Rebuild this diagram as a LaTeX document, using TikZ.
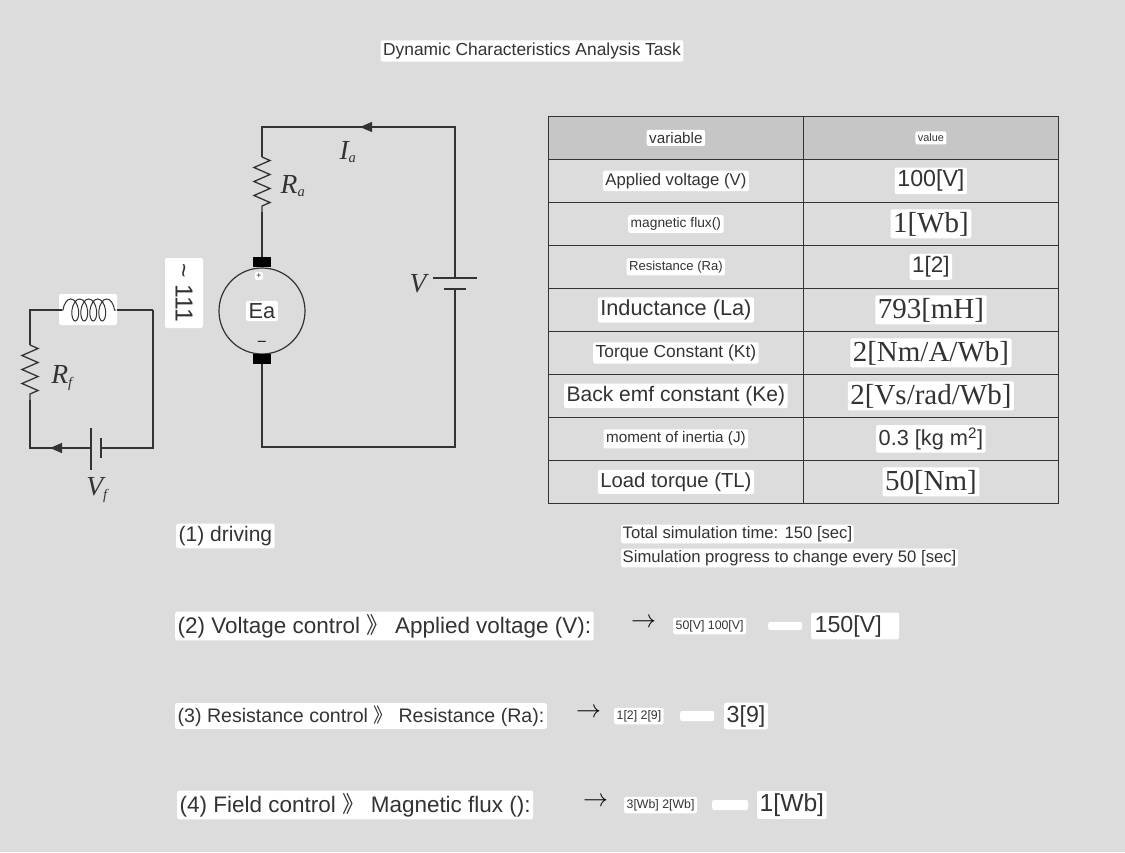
\documentclass[tikz,border=0pt]{standalone}
\usepackage{fontspec}
\setmainfont{Liberation Sans}
\newfontfamily\serifv{Liberation Serif}
\newfontfamily\cjk{Noto Sans CJK SC}
\usetikzlibrary{positioning}
\usetikzlibrary{calc}
\usetikzlibrary{decorations.pathmorphing}
\usetikzlibrary{arrows.meta}
\newcommand{\fsz}[1]{\fontsize{\fpeval{1.45*#1}}{\fpeval{1.45*#1}}\selectfont}
\definecolor{bgc}{HTML}{DCDCDC}
\definecolor{hdc}{HTML}{C6C6C6}
\definecolor{txc}{HTML}{333333}
\begin{document}
\begin{tikzpicture}[x=1pt,y=-1pt,
                    lbl/.style={fill=white, rounded corners=2pt, inner sep=2.5pt, text=txc},
                    wire/.style={line width=1.3pt, draw=black!80},
                    res/.style={wire, decorate, decoration={zigzag, segment length=14pt, amplitude=8pt}},
                    cell/.style={minimum width=255pt, minimum height=43pt, draw=black!80, line width=0.8pt, anchor=north west},
                    mathlbl/.style={font=\serifv\itshape\fsz{19}, text=black!80}
                ]
                \fill[bgc] (0,0) rectangle (1125,852);
                \useasboundingbox (0,0) rectangle (1125,852);
                % title
                \node[lbl, font=\fsz{12}] (title) at (532,51) {Dynamic Characteristics Analysis Task};
                % armature circuit
                \coordinate (atl) at (262,127);
                \coordinate (atr) at (455,127);
                \coordinate (abl) at (262,447);
                \coordinate (abr) at (455,447);
                \coordinate (ra1) at (262,157);
                \coordinate (ra2) at (262,212);
                \coordinate (vp) at (455,278);
                \coordinate (vn) at (455,289);
                \node[circle, draw=black!80, line width=1.2pt, minimum size=86pt] (motor) at (262,311) {};
                \node[fill=black, minimum width=18pt, minimum height=10pt, inner sep=0pt] (bt) at (262,262) {};
                \node[fill=black, minimum width=18pt, minimum height=10pt, inner sep=0pt] (bb) at (262,359) {};
                \draw[wire] (ra2) -- (bt.north);
                \draw[res] (ra1) -- (ra2);
                \draw[wire] (ra1) -- (atl) -- (atr) -- (vp);
                \draw[wire] (vn) -- (abr) -- (abl) -- (bb.south);
                \draw[wire] (433,278) -- (477,278);
                \draw[wire] (444,289) -- (466,289);
                \draw[wire, -{Triangle[length=12pt,width=10pt]}] (atr) -- (360,127);
                \node[lbl, font=\fsz{15}] (ea) at (262,311) {Ea};
                \node[lbl, font=\fsz{6}, inner sep=1.5pt] (plus) at (259,276) {+};
                \node[font=\fsz{10}] (minus) at (262,343) {--};
                \node[mathlbl] (ia) at (348,152) {I\textsubscript{\fsz{10}a}};
                \node[mathlbl] (ral) at (293,186) {R\textsubscript{\fsz{10}a}};
                \node[mathlbl] (vl) at (418,284) {V};
                % field circuit
                \coordinate (ftl) at (30,310);
                \coordinate (ftr) at (153,310);
                \coordinate (fbl) at (30,448);
                \coordinate (fbr) at (153,448);
                \coordinate (rf1) at (30,345);
                \coordinate (rf2) at (30,400);
                \fill[white, rounded corners=2pt] (59,294) rectangle (117,325);
                \draw[wire] (ftr) -- (117,310);
                \draw[wire, line width=1pt, decorate, decoration={coil, aspect=0.5, segment length=9pt, amplitude=11pt, pre length=1pt, post length=1pt}] (62,310) -- (116,310);
                \draw[wire] (62,310) -- (ftl) -- (rf1);
                \draw[res] (rf1) -- (rf2);
                \draw[wire] (rf2) -- (fbl) -- (91,448);
                \draw[wire] (ftr) -- (fbr) -- (101,448);
                \draw[wire] (91,428) -- (91,470);
                \draw[wire] (101,438) -- (101,458);
                \draw[wire, -{Triangle[length=12pt,width=10pt]}] (91,448) -- (50,448);
                \node[mathlbl] (rfl) at (62,378) {R\textsubscript{\fsz{10}f}};
                \node[mathlbl] (vfl) at (97,490) {V\textsubscript{\fsz{10}f}};
                \node[lbl, minimum width=38pt, minimum height=70pt] (coupl) at (184,293) {};
                \node[rotate=-90, font=\fsz{17}, text=txc] at (184,293) {\~{} 111};
                % table
                \foreach \i/\a/\b/\fa/\fb in {
                    1/Applied voltage (V)/100[V]/11.5/16,
                    2/magnetic flux()/{\serifv 1[Wb]}/9.5/20,
                    3/Resistance (Ra)/1[2]/9/15.5,
                    4/Inductance (La)/{\serifv 793[mH]}/15/20,
                    5/Torque Constant (Kt)/{\serifv 2[Nm/A/Wb]}/12/20,
                    6/Back emf constant (Ke)/{\serifv 2[Vs/rad/Wb]}/14.5/20,
                    7/moment of inertia (J)/0.3 [kg m\textsuperscript{2}]/10.5/15,
                    8/Load torque (TL)/{\serifv 50[Nm]}/14/20}{
                    \node[cell] (var\i) at (548,{116+43*\i}) {};
                    \node[cell] (val\i) at (803,{116+43*\i}) {};
                    \node[lbl, font=\fsz{\fa}] at (var\i.center) {\a};
                    \node[lbl, font=\fsz{\fb}] at (val\i.center) {\b};
                }
                \node[cell, fill=hdc] (varh) at (548,116) {};
                \node[cell, fill=hdc] (valh) at (803,116) {};
                \node[lbl, font=\fsz{10.5}] at (varh.center) {variable};
                \node[lbl, font=\fsz{7.5}] at (valh.center) {value};
                % notes
                \node[lbl, font=\fsz{14.5}, anchor=west] (drv) at (176,536) {(1) driving};
                \node[lbl, font=\fsz{11.5}, anchor=west, inner sep=1.5pt] (tot) at (621,534) {Total simulation time: 150 [sec]};
                \node[lbl, font=\fsz{11.5}, anchor=west, inner sep=1.5pt] (prog) at (621,558) {Simulation progress to change every 50 [sec]};
                % control cases
                \node[lbl, font=\fsz{15.5}, anchor=west] (c2) at (175,626) {(2) Voltage control {\cjk 》} Applied voltage (V):};
                \node[font=\fsz{16}, anchor=west, inner sep=0pt] (c2a) at (631,623) {$\rightarrow$};
                \node[lbl, font=\fsz{8.5}, anchor=west] (c2b) at (673,626) {50[V] 100[V]};
                \node[lbl, anchor=west, minimum width=34pt, minimum height=8pt, inner sep=0pt] (c2c) at (768,626) {};
                \node[lbl, font=\fsz{16}, anchor=west, minimum width=88pt, align=left] (c2d) at (811,626) {150[V]\hspace{14pt}};
                \node[lbl, font=\fsz{13.5}, anchor=west] (c3) at (175,716) {(3) Resistance control {\cjk 》} Resistance (Ra):};
                \node[font=\fsz{16}, anchor=west, inner sep=0pt] (c3a) at (576,713) {$\rightarrow$};
                \node[lbl, font=\fsz{8.5}, anchor=west] (c3b) at (614,716) {1[2] 2[9]};
                \node[lbl, anchor=west, minimum width=34pt, minimum height=10pt, inner sep=0pt] (c3c) at (680,716) {};
                \node[lbl, font=\fsz{16}, anchor=west] (c3d) at (724,716) {3[9]\hspace{8pt}};
                \node[lbl, font=\fsz{15.5}, anchor=west] (c4) at (177,805) {(4) Field control {\cjk 》} Magnetic flux ():\hspace{12pt}};
                \node[font=\fsz{16}, anchor=west, inner sep=0pt] (c4a) at (583,802) {$\rightarrow$};
                \node[lbl, font=\fsz{8.5}, anchor=west] (c4b) at (624,805) {3[Wb] 2[Wb]};
                \node[lbl, anchor=west, minimum width=36pt, minimum height=10pt, inner sep=0pt] (c4c) at (712,805) {};
                \node[lbl, font=\fsz{17}, anchor=west] (c4d) at (757,805) {1[Wb]\hspace{6pt}};
            \end{tikzpicture}
\end{document}
